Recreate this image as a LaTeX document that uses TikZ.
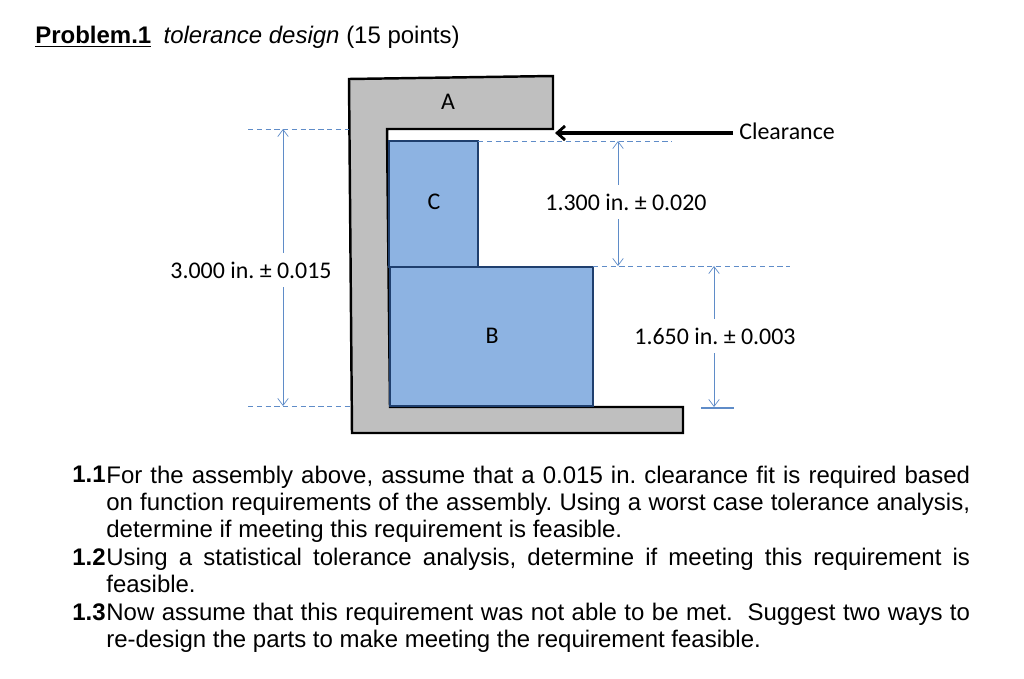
\documentclass[tikz,border=0pt]{standalone}
\usepackage{fontspec}
\usepackage{tikz}
\usetikzlibrary{arrows.meta}
\setmainfont{Liberation Sans}
\newfontfamily\dimfont{Carlito}
\definecolor{partgray}{HTML}{BFBFBF}
\definecolor{partblue}{HTML}{8DB3E2}
\definecolor{partedge}{HTML}{1F3F6E}
\definecolor{dimblue}{HTML}{5F8CC8}
\tikzset{
  dimline/.style={dimblue,line width=0.5pt,dashed,dash pattern=on 3pt off 2pt},
  dimarrow/.style={dimblue,line width=0.5pt,-{Straight Barb[length=4pt,width=6pt,line width=0.4pt]}},
  dimlabel/.style={font=\dimfont\fontsize{13.6}{16}\selectfont,inner ysep=5pt},
  partlabel/.style={font=\dimfont\fontsize{13.6}{16}\selectfont},
  block/.style={draw=partedge,fill=partblue,line width=1.2pt},
  itemnum/.style={font=\bfseries\fontsize{13.65}{15.5}\selectfont,anchor=north west},
  itembody/.style={font=\fontsize{13.65}{15.5}\selectfont,anchor=north west,text width=491.6pt,align=justify}
}
\begin{document}
\frenchspacing
\begin{tikzpicture}[x=0.02cm,y=0.02cm]
  \tikzstyle{every node}+=[inner sep=0pt]
  \useasboundingbox (0,0) rectangle (1024,-679);
  % heading
  \node [anchor=base west,font=\fontsize{13.65}{15.5}\selectfont] (title) at (35,-44)
    {\underline{\textbf{Problem.1}}\hspace{7pt}\textit{tolerance design} (15 points)};
  % parts
  \draw [black,fill=partgray,line width=1.4pt] (349,-79) -- (553,-76) -- (553,-129) -- (387,-129)
    -- (390,-407) -- (683,-407) -- (683,-433) -- (352,-433) -- cycle;
  \node [block,minimum width=50.5pt,minimum height=71.5pt] (partc) at (433.5,-204) {};
  \node [block,minimum width=115.2pt,minimum height=79pt] (partb) at (491.5,-336.5) {};
  \node [partlabel] (labela) at (448,-102) {A};
  \node [partlabel] (labelc) at (434,-202) {C};
  \node [partlabel] (labelb) at (492,-336) {B};
  % clearance
  \node [partlabel,anchor=west] (clear) at (739,-131) {Clearance};
  \coordinate (gap) at (555,-133);
  \draw [black,line width=1.9pt,-{Straight Barb[length=4.5pt,width=8pt,line width=1.6pt]}] (733,-133) -- (gap);
  % dimension lines
  \coordinate (lefttop) at (283,-129);
  \coordinate (leftbot) at (283,-406);
  \coordinate (midtop) at (618,-141);
  \coordinate (midbot) at (618,-266);
  \coordinate (righttop) at (714,-266);
  \coordinate (rightbot) at (714,-407);
  \draw [dimline] (248,-129) -- (349,-129);
  \draw [dimline] (248,-406) -- (351,-406);
  \draw [dimline] (478,-141) -- (672,-141);
  \draw [dimline] (593,-266) -- (790,-266);
  \draw [dimblue,line width=0.6pt] (701,-408) -- (734,-408);
  \node [dimlabel] (dimtotal) at (251,-270) {3.000 in. ± 0.015};
  \node [dimlabel] (dimc) at (626,-202) {1.300 in. ± 0.020};
  \node [dimlabel] (dimb) at (715,-336) {1.650 in. ± 0.003};
  \draw [dimarrow] (dimtotal.north -| lefttop) -- (lefttop);
  \draw [dimarrow] (dimtotal.south -| leftbot) -- (leftbot);
  \draw [dimarrow] (dimc.north -| midtop) -- (midtop);
  \draw [dimarrow] (dimc.south -| midbot) -- (midbot);
  \draw [dimarrow] (dimb.north -| righttop) -- (righttop);
  \draw [dimarrow] (dimb.south -| rightbot) -- (rightbot);
  % questions
  \node [itemnum] (numa) at (72,-465.5) {1.1};
  \node [itembody] (itema) at (106,-465.5) {For the assembly above, assume that a 0.015 in. clearance fit is required based\linebreak on function requirements of the assembly. Using a worst case tolerance analysis,\linebreak determine if meeting this requirement is feasible.};
  \node [itemnum] (numb) at (72,-548) {1.2};
  \node [itembody] (itemb) at (106,-548) {Using a statistical tolerance analysis, determine if meeting this requirement is\linebreak feasible.};
  \node [itemnum] (numc) at (72,-603) {1.3};
  \node [itembody] (itemc) at (106,-603) {Now assume that this requirement was not able to be met.\ \ Suggest two ways to\linebreak re-design the parts to make meeting the requirement feasible.};
\end{tikzpicture}
\end{document}
